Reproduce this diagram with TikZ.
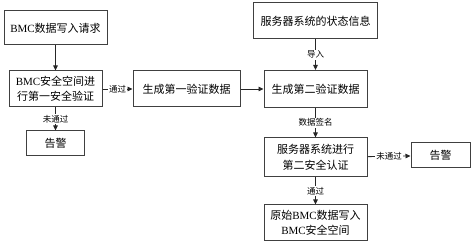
\documentclass[tikz,border=0pt]{standalone}
\usepackage{fontspec}
\setmainfont{Liberation Serif}
\newfontfamily\cjk{Noto Sans CJK SC}
\usetikzlibrary{arrows.meta}
\tikzset{
  box/.style={draw=black!75, line width=1pt, fill=white, inner sep=0pt, align=center,
    font=\fontsize{11}{15.5}\selectfont\cjk},
  arr/.style={draw=black!85, line width=0.8pt, -{Triangle[length=5pt,width=4.5pt]}},
  lbl/.style={fill=white, inner sep=1pt, font=\fontsize{8.5}{9}\selectfont\cjk}
}
\begin{document}
\begin{tikzpicture}[x=1pt,y=-1pt]
\useasboundingbox (0,0) rectangle (474,245);
\node[box, minimum width=103pt, minimum height=34pt] (b1) at (55.5,28) {{\rmfamily BMC}数据写入请求};
\node[box, minimum width=93pt, minimum height=36pt] (b2) at (55.5,89) {{\rmfamily BMC}安全空间进\\行第一安全验证};
\node[box, minimum width=107pt, minimum height=36pt] (b3) at (186.5,89) {生成第一验证数据};
\node[box, minimum width=124pt, minimum height=36pt] (st) at (315.5,21) {服务器系统的状态信息};
\node[box, minimum width=103pt, minimum height=37pt] (b4) at (315.5,89) {生成第二验证数据};
\node[box, minimum width=103pt, minimum height=39pt] (b5) at (315.5,157.5) {服务器系统进行\\第二安全认证};
\node[box, minimum width=59pt, minimum height=25pt] (al2) at (440.5,155.5) {告警};
\node[box, minimum width=103pt, minimum height=36pt] (b6) at (315.5,223) {原始{\rmfamily BMC}数据写入\\{\rmfamily BMC}安全空间};
\node[box, minimum width=58pt, minimum height=25pt] (al1) at (55.5,143.5) {告警};
\draw[arr] (b1) -- (b2);
\draw[arr] (b2) -- node[lbl]{通过} (b3);
\draw[arr] (b2) -- node[lbl]{未通过} (al1);
\draw[arr] (b3) -- (b4);
\draw[arr] (st) -- node[lbl]{导入} (b4);
\draw[arr] (b4) -- node[lbl]{数据签名} (b5);
\draw[arr] (b5) -- node[lbl]{未通过} (al2);
\draw[arr] (b5) -- node[lbl]{通过} (b6);
\end{tikzpicture}
\end{document}
